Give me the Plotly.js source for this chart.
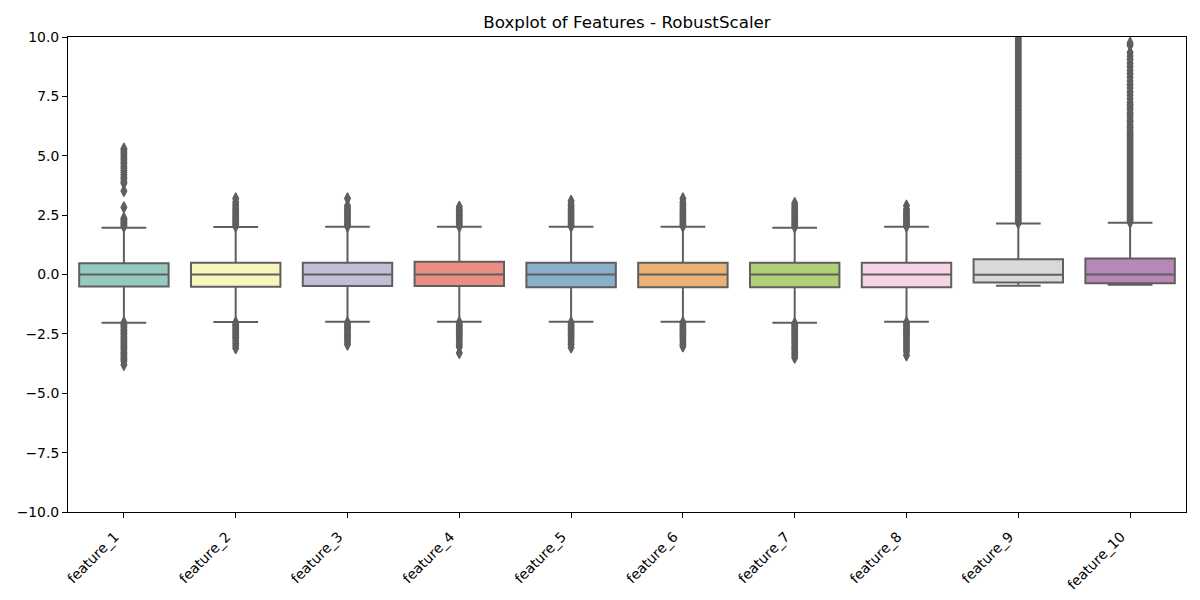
<!DOCTYPE html>
<html>
<head>
<meta charset="utf-8">
<script src="https://cdn.plot.ly/plotly-3.0.1.min.js"></script>
<style>html,body{margin:0;padding:0;background:#fff;}#chart{width:1200px;height:600px;}</style>
</head>
<body>
<div id="chart"></div>
<script>
const categories = ["feature_1","feature_2","feature_3","feature_4","feature_5","feature_6","feature_7","feature_8","feature_9","feature_10"];
const q1 = [-0.51,-0.52,-0.48,-0.48,-0.54,-0.54,-0.54,-0.54,-0.34,-0.37];
const medians = [0.0,0.0,0.0,0.0,0.0,0.0,0.0,0.0,-0.01,0.0];
const q3 = [0.47,0.5,0.5,0.54,0.5,0.5,0.5,0.5,0.64,0.67];
const lowerWhisker = [-2.03,-2.0,-1.99,-1.99,-1.99,-1.99,-2.03,-1.99,-0.47,-0.43];
const upperWhisker = [1.97,2.0,2.01,2.01,2.01,2.01,1.97,2.01,2.15,2.18];
const boxColors = ["#96cac1","#f6f6bc","#c1bed6","#ea8e83","#8aafc9","#eab375","#afcf78","#f6d3e5","#d9d9d9","#b588b5"];

const outliers_f1 = [2.02,2.08,2.14,2.2,2.26,2.32,2.37,2.83,3.52,3.84,3.92,4.02,4.1,4.2,4.3,4.38,4.47,4.55,4.65,4.73,4.82,4.9,5.0,5.08,5.16,5.24,5.3,
  -2.02,-2.08,-2.15,-2.21,-2.3,-2.37,-2.45,-2.52,-2.6,-2.68,-2.75,-2.83,-2.9,-2.98,-3.05,-3.12,-3.2,-3.28,-3.35,-3.43,-3.5,-3.58,-3.65,-3.8];
const outliers_f2 = [2.03,2.09,2.16,2.22,2.3,2.37,2.45,2.52,2.6,2.68,2.76,2.85,2.95,3.05,3.2,
  -2.02,-2.1,-2.17,-2.25,-2.33,-2.4,-2.48,-2.56,-2.63,-2.71,-2.8,-2.9,-3.0,-3.1];
const outliers_f3 = [2.03,2.1,2.17,2.25,2.33,2.4,2.48,2.56,2.63,2.72,2.8,2.9,3.2,
  -2.02,-2.1,-2.18,-2.25,-2.33,-2.42,-2.5,-2.58,-2.66,-2.75,-2.85,-2.95];
const outliers_f4 = [2.03,2.1,2.18,2.26,2.34,2.42,2.5,2.58,2.66,2.75,2.85,
  -2.02,-2.1,-2.18,-2.26,-2.34,-2.42,-2.5,-2.58,-2.66,-2.75,-2.85,-2.95,-3.05,-3.3];
const outliers_f5 = [2.03,2.1,2.18,2.26,2.34,2.42,2.5,2.58,2.66,2.75,2.85,2.95,3.1,
  -2.02,-2.1,-2.18,-2.26,-2.34,-2.42,-2.5,-2.58,-2.66,-2.75,-2.85,-2.95,-3.07];
const outliers_f6 = [2.03,2.1,2.18,2.26,2.34,2.42,2.5,2.58,2.66,2.75,2.85,2.95,3.05,3.2,
  -2.02,-2.1,-2.18,-2.26,-2.34,-2.42,-2.5,-2.58,-2.66,-2.75,-2.85,-2.95,-3.03];
const outliers_f7 = [2.0,2.07,2.15,2.23,2.31,2.39,2.47,2.55,2.63,2.71,2.8,2.9,3.0,
  -2.06,-2.13,-2.2,-2.28,-2.36,-2.44,-2.52,-2.6,-2.68,-2.76,-2.85,-2.93,-3.02,-3.1,-3.2,-3.3,-3.4,-3.5];
const outliers_f8 = [2.03,2.1,2.18,2.26,2.34,2.42,2.5,2.58,2.66,2.75,2.9,
  -2.02,-2.1,-2.18,-2.26,-2.34,-2.42,-2.5,-2.58,-2.66,-2.75,-2.85,-2.95,-3.05,-3.15,-3.25,-3.4];
const outliers_f9 = [2.17,2.25,2.33,2.41,2.5,2.58,2.66,2.75,2.83,2.92,3.0,3.08,3.17,3.25,3.34,3.42,3.5,3.59,3.67,3.76,3.84,3.93,4.01,4.1,4.18,4.27,4.35,4.44,4.52,4.6,4.69,4.77,4.86,4.94,5.03,5.11,5.2,5.28,5.37,5.45,5.54,5.62,5.7,5.79,5.87,5.96,6.04,6.13,6.21,6.3,6.38,6.47,6.55,6.63,6.72,6.8,6.89,6.97,7.06,7.14,7.23,7.31,7.4,7.48,7.57,7.65,7.73,7.82,7.9,7.99,8.07,8.16,8.24,8.33,8.41,8.5,8.58,8.66,8.75,8.83,8.92,9.0,9.09,9.17,9.26,9.34,9.43,9.51,9.6,9.68,9.77,9.85,9.94,10.02,10.1,10.2,10.3];
const outliers_f10 = [2.2,2.28,2.36,2.44,2.52,2.6,2.68,2.77,2.85,2.93,3.01,3.1,3.18,3.26,3.34,3.43,3.51,3.59,3.67,3.76,3.84,3.92,4.0,4.09,4.17,4.25,4.34,4.42,4.5,4.58,4.67,4.75,4.83,4.92,5.0,5.08,5.16,5.25,5.33,5.41,5.5,5.58,5.66,5.75,5.83,5.92,6.0,6.1,6.2,6.3,6.42,6.5,6.62,6.72,6.8,6.95,7.05,7.15,7.25,7.4,7.55,7.7,7.85,8.0,8.15,8.3,8.45,8.6,8.75,8.9,9.05,9.2,9.35,9.65,9.75];
const outlierSets = [outliers_f1,outliers_f2,outliers_f3,outliers_f4,outliers_f5,outliers_f6,outliers_f7,outliers_f8,outliers_f9,outliers_f10];

const yTickVals = [-10,-7.5,-5,-2.5,0,2.5,5,7.5,10];
const yTickText = ["\u221210.0","\u22127.5","\u22125.0","\u22122.5","0.0","2.5","5.0","7.5","10.0"];

const lineGray = "#5f5f5f";
const traces = [];
categories.forEach((c, i) => {
  traces.push({
    type: "box",
    x: [c],
    q1: [q1[i]], median: [medians[i]], q3: [q3[i]],
    lowerfence: [lowerWhisker[i]], upperfence: [upperWhisker[i]],
    boxpoints: false,
    width: 0.8,
    fillcolor: boxColors[i],
    line: {color: lineGray, width: 2},
    whiskerwidth: 0.5,
    showlegend: false,
    hoverinfo: "skip"
  });
});
categories.forEach((c, i) => {
  traces.push({
    type: "scatter",
    mode: "markers",
    x: outlierSets[i].map(() => c),
    y: outlierSets[i],
    marker: {symbol: "diamond-tall", size: 8, color: lineGray, line: {width: 1.4, color: lineGray}},
    showlegend: false,
    hoverinfo: "skip",
    cliponaxis: true
  });
});

const layout = {
  width: 1200, height: 600,
  margin: {l: 68, r: 14, t: 37, b: 88},
  paper_bgcolor: "#fff", plot_bgcolor: "#fff",
  font: {family: "DejaVu Sans", size: 13.9, color: "#000"},
  title: {text: "Boxplot of Features - RobustScaler", font: {family: "DejaVu Sans", size: 16.7, color: "#000"}, x: 0.5225, xanchor: "center", y: 0.963, yanchor: "middle"},
  boxmode: "overlay",
  boxgap: 0.2,
  xaxis: {
    type: "category", categoryarray: categories, categoryorder: "array",
    range: [-0.5, 9.5],
    showline: true, linecolor: "#000", linewidth: 1, mirror: true,
    ticks: "outside", ticklen: 5, tickcolor: "#000", tickwidth: 1,
    tickangle: -45, showgrid: false, zeroline: false,
    ticklabelshift: -9, ticklabelstandoff: 5,
    tickfont: {family: "DejaVu Sans", size: 13.9, color: "#000"}
  },
  yaxis: {
    range: [-10, 10], tickvals: yTickVals, ticktext: yTickText,
    showline: true, linecolor: "#000", linewidth: 1, mirror: true,
    ticks: "outside", ticklen: 5, tickcolor: "#000", tickwidth: 1,
    showgrid: false, zeroline: false,
    tickfont: {family: "DejaVu Sans", size: 13.9, color: "#000"}
  }
};
Plotly.newPlot("chart", traces, layout, {displayModeBar: false, staticPlot: true});
</script>
</body>
</html>
